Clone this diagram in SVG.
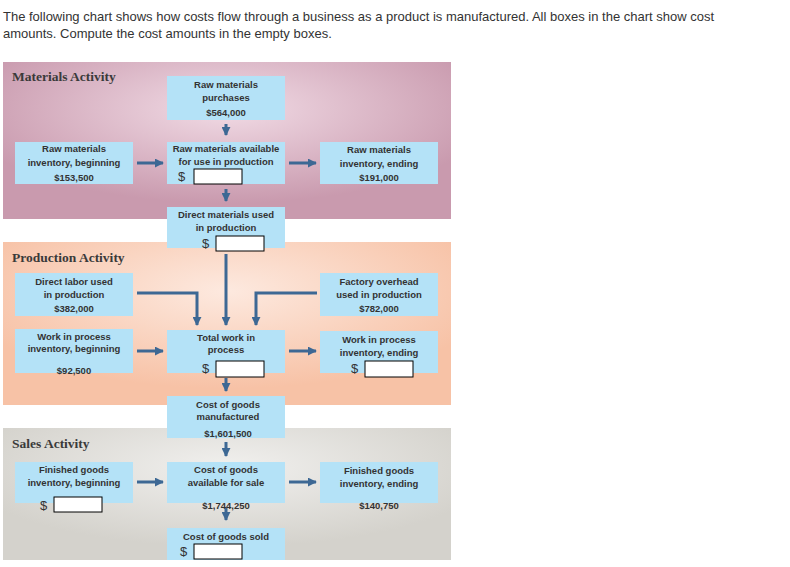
<svg xmlns="http://www.w3.org/2000/svg" width="790" height="567" viewBox="0 0 790 567">
<defs>
<radialGradient id="gm" cx="0.5" cy="0.3" r="0.6"><stop offset="0" stop-color="#f1dbe5"/><stop offset="1" stop-color="#c99aae"/></radialGradient>
<radialGradient id="gp" cx="0.5" cy="0.3" r="0.6"><stop offset="0" stop-color="#fde9df"/><stop offset="1" stop-color="#f7c2a6"/></radialGradient>
<radialGradient id="gs" cx="0.5" cy="0.3" r="0.6"><stop offset="0" stop-color="#f1f0ee"/><stop offset="1" stop-color="#d4d2cc"/></radialGradient>
<marker id="ah" viewBox="0 0 10 10" refX="9" refY="5" markerWidth="3" markerHeight="3" orient="auto"><path d="M0,0L10,5L0,10z" fill="#3d6894"/></marker>
<style>
.bx{fill:#b4e2f7}
.t{font-family:"Liberation Sans",Arial,sans-serif;font-size:9.5px;font-weight:bold;fill:#333;text-anchor:middle}
.h{font-family:"Liberation Serif","Times New Roman",serif;font-size:13.5px;font-weight:bold;fill:#3a3a3a}
.d{font-family:"Liberation Sans",Arial,sans-serif;font-size:13px;fill:#333}
.in{fill:#fff;stroke:#000;stroke-width:1}
.c{stroke:#3d6894;stroke-width:3;fill:none}
.p{font-family:"Liberation Sans",Arial,sans-serif;font-size:13px;fill:#333}
</style>
</defs>
<rect width="790" height="567" fill="#fff"/>
<text class="p" x="3" y="21">The following chart shows how costs flow through a business as a product is manufactured. All boxes in the chart show cost</text>
<text class="p" x="3" y="38">amounts. Compute the cost amounts in the empty boxes.</text>
<rect x="3" y="62" width="448" height="157" fill="url(#gm)"/>
<rect x="3" y="242" width="448" height="163" fill="url(#gp)"/>
<rect x="3" y="428" width="448" height="132" fill="url(#gs)"/>
<text class="h" x="12" y="81">Materials Activity</text>
<text class="h" x="12" y="262">Production Activity</text>
<text class="h" x="12" y="448">Sales Activity</text>
<g id="rmp"><rect class="bx" x="167" y="76" width="118" height="44"/><text class="t" x="226" y="88">Raw materials</text><text class="t" x="226" y="101">purchases</text><text class="t" x="226" y="116">$564,000</text></g>
<g id="rmb"><rect class="bx" x="15" y="142" width="118" height="42"/><text class="t" x="74" y="152">Raw materials</text><text class="t" x="74" y="166">inventory, beginning</text><text class="t" x="74" y="181">$153,500</text></g>
<g id="rma"><rect class="bx" x="167" y="142" width="118" height="42"/><text class="t" x="226" y="152">Raw materials available</text><text class="t" x="226" y="165">for use in production</text><text class="d" x="178" y="181">$</text><rect class="in" x="194" y="169" width="48" height="15"/></g>
<g id="rme"><rect class="bx" x="320" y="142" width="118" height="42"/><text class="t" x="379" y="153">Raw materials</text><text class="t" x="379" y="167">inventory, ending</text><text class="t" x="379" y="181">$191,000</text></g>
<g id="dm"><rect class="bx" x="167" y="207" width="118" height="41"/><text class="t" x="226" y="218">Direct materials used</text><text class="t" x="226" y="231">in production</text><text class="d" x="202" y="248">$</text><rect class="in" x="216" y="236" width="48" height="15"/></g>
<g id="dl"><rect class="bx" x="15" y="273" width="118" height="43"/><text class="t" x="74" y="285">Direct labor used</text><text class="t" x="74" y="298">in production</text><text class="t" x="74" y="312">$382,000</text></g>
<g id="fo"><rect class="bx" x="320" y="273" width="118" height="43"/><text class="t" x="379" y="285">Factory overhead</text><text class="t" x="379" y="298">used in production</text><text class="t" x="379" y="312">$782,000</text></g>
<g id="wb"><rect class="bx" x="15" y="329" width="118" height="44"/><text class="t" x="74" y="340">Work in process</text><text class="t" x="74" y="352">inventory, beginning</text><text class="t" x="74" y="374">$92,500</text></g>
<g id="tw"><rect class="bx" x="167" y="330" width="118" height="43"/><text class="t" x="226" y="341">Total work in</text><text class="t" x="226" y="353">process</text><text class="d" x="202" y="373">$</text><rect class="in" x="216" y="361" width="48" height="16"/></g>
<g id="we"><rect class="bx" x="320" y="331" width="118" height="42"/><text class="t" x="379" y="343">Work in process</text><text class="t" x="379" y="356">inventory, ending</text><text class="d" x="351" y="373">$</text><rect class="in" x="365" y="361" width="48" height="16"/></g>
<g id="cgm"><rect class="bx" x="167" y="396" width="118" height="42"/><text class="t" x="228" y="408">Cost of goods</text><text class="t" x="228" y="420">manufactured</text><text class="t" x="228" y="437">$1,601,500</text></g>
<g id="fb"><rect class="bx" x="15" y="462" width="118" height="41"/><text class="t" x="74" y="473">Finished goods</text><text class="t" x="74" y="486">inventory, beginning</text><text class="d" x="40" y="510">$</text><rect class="in" x="54" y="497" width="48" height="15"/></g>
<g id="cga"><rect class="bx" x="167" y="462" width="118" height="41"/><text class="t" x="226" y="473">Cost of goods</text><text class="t" x="226" y="486">available for sale</text><text class="t" x="226" y="509">$1,744,250</text></g>
<g id="fe"><rect class="bx" x="320" y="462" width="118" height="41"/><text class="t" x="379" y="474">Finished goods</text><text class="t" x="379" y="487">inventory, ending</text><text class="t" x="379" y="509">$140,750</text></g>
<g id="cgs"><rect class="bx" x="167" y="528" width="118" height="32"/><text class="t" x="226" y="540">Cost of goods sold</text><text class="d" x="180" y="556">$</text><rect class="in" x="194" y="544" width="48" height="15"/></g>
<g id="connectors">
<path class="c" marker-end="url(#ah)" d="M226,124V135"/>
<path class="c" marker-end="url(#ah)" d="M226,189V201"/>
<path class="c" marker-end="url(#ah)" d="M226,254V325"/>
<path class="c" marker-end="url(#ah)" d="M137,293H197V325"/>
<path class="c" marker-end="url(#ah)" d="M317,293H256V325"/>
<path class="c" marker-end="url(#ah)" d="M226,378V391"/>
<path class="c" marker-end="url(#ah)" d="M226,442V456"/>
<path class="c" marker-end="url(#ah)" d="M226,508V520"/>
<path class="c" marker-end="url(#ah)" d="M137,163H163"/>
<path class="c" marker-end="url(#ah)" d="M289,163H316"/>
<path class="c" marker-end="url(#ah)" d="M137,351H163"/>
<path class="c" marker-end="url(#ah)" d="M289,351H316"/>
<path class="c" marker-end="url(#ah)" d="M137,482H163"/>
<path class="c" marker-end="url(#ah)" d="M289,482H316"/>
</g>
</svg>
